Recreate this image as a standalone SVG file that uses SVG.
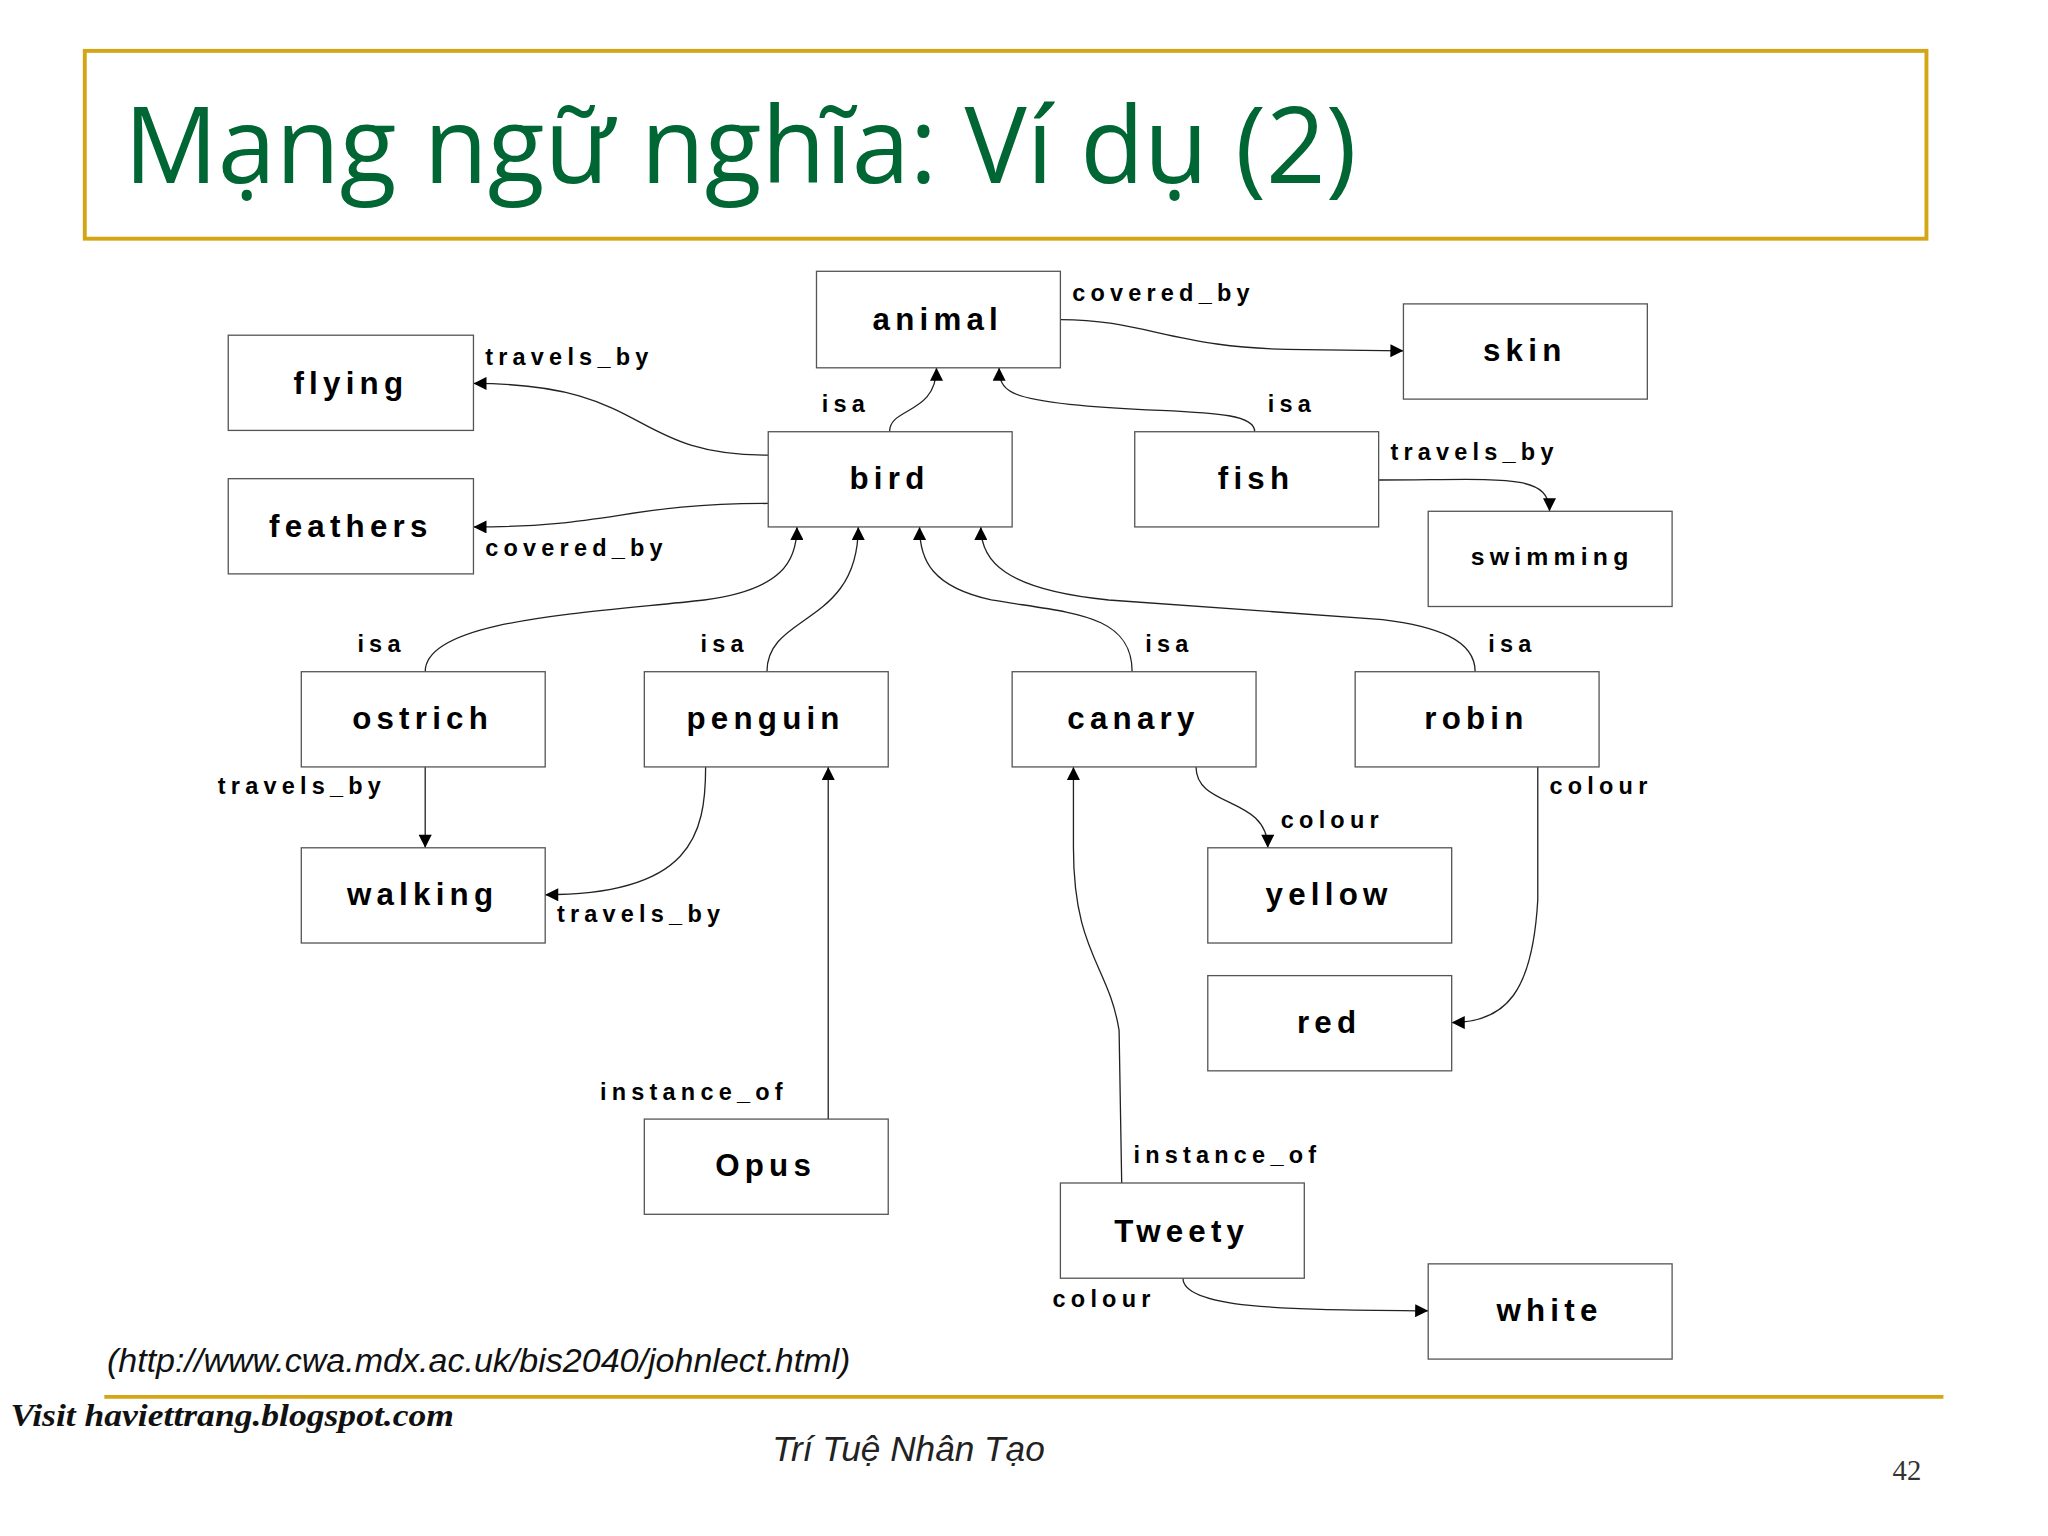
<svg xmlns="http://www.w3.org/2000/svg" width="2048" height="1536" viewBox="0 0 2048 1536">
<defs>
<marker id="ar" viewBox="0 0 10 10" refX="10" refY="5" markerWidth="14" markerHeight="10" markerUnits="userSpaceOnUse" orient="auto"><path d="M0,0 L10,5 L0,10 z" fill="#000"/></marker>
<style>
.n rect{fill:#fff;stroke:#555;stroke-width:1}
.n text{font-family:"Liberation Sans",Arial,sans-serif;font-size:24px;font-weight:bold;letter-spacing:4px;text-anchor:middle;fill:#000}
.e path{fill:none;stroke:#222;stroke-width:1;marker-end:url(#ar)}
.l{font-family:"Liberation Sans",Arial,sans-serif;font-size:18px;font-weight:bold;letter-spacing:4px;fill:#000}
</style>
</defs>
<rect width="2048" height="1536" fill="#fff"/>
<g transform="scale(1.3043)">
<rect x="65" y="39" width="1412" height="144" fill="none" stroke="#D4A514" stroke-width="3"/>
<text x="95" y="140" font-family="'Open Sans',sans-serif" font-size="82" fill="#006633" textLength="945" lengthAdjust="spacingAndGlyphs">Mạng ngữ nghĩa: Ví dụ (2)</text>

<g class="e" id="edges">
<path d="M813,245 C880,245 900,268 1000,268 L1076,269"/>
<path d="M682,331 C682,312 718,318 718,282"/>
<path d="M962,331 C962,312 900,318 820,310 C775,305 766,300 766,282"/>
<path d="M589,349 C480,349 500,294 363,294"/>
<path d="M589,386 C480,386 470,404 363,404"/>
<path d="M1057,368 C1150,368 1188,362 1188,392"/>
<path d="M326,515 C326,475 450,470 540,460 C600,452 611,430 611,404"/>
<path d="M588,515 C588,470 658,480 658,404"/>
<path d="M868,515 C868,470 820,470 760,460 C715,450 705,430 705,404"/>
<path d="M1131,515 C1131,490 1100,480 1060,475 L850,460 C770,452 752,430 752,404"/>
<path d="M326,588 L326,650"/>
<path d="M541,588 C541,640 530,686 418,686"/>
<path d="M917,588 C917,620 972,610 972,650"/>
<path d="M1179,588 L1179,690 C1175,760 1155,784 1113,784"/>
<path d="M635,858 L635,588"/>
<path d="M860,907 L858,790 C850,740 823,730 823,650 L823,588"/>
<path d="M907,980 C907,1005 1000,1004 1095,1005"/>
</g>
<g>
<text class="l" x="822" y="231">covered_by</text>
<text class="l" x="630" y="316">isa</text>
<text class="l" x="972" y="316">isa</text>
<text class="l" x="372" y="280">travels_by</text>
<text class="l" x="372" y="426">covered_by</text>
<text class="l" x="1066" y="353">travels_by</text>
<text class="l" x="274" y="500">isa</text>
<text class="l" x="537" y="500">isa</text>
<text class="l" x="878" y="500">isa</text>
<text class="l" x="1141" y="500">isa</text>
<text class="l" x="167" y="609">travels_by</text>
<text class="l" x="427" y="707">travels_by</text>
<text class="l" x="982" y="635">colour</text>
<text class="l" x="1188" y="609">colour</text>
<text class="l" x="460" y="843">instance_of</text>
<text class="l" x="869" y="892">instance_of</text>
<text class="l" x="807" y="1002">colour</text>
</g>

<g class="n" id="animal"><rect x="626" y="208" width="187" height="74"/><text x="719" y="253">animal</text></g>
<g class="n" id="skin"><rect x="1076" y="233" width="187" height="73"/><text x="1169" y="277">skin</text></g>
<g class="n" id="flying"><rect x="175" y="257" width="188" height="73"/><text x="269" y="302">flying</text></g>
<g class="n" id="bird"><rect x="589" y="331" width="187" height="73"/><text x="682" y="375">bird</text></g>
<g class="n" id="fish"><rect x="870" y="331" width="187" height="73"/><text x="963" y="375">fish</text></g>
<g class="n" id="feathers"><rect x="175" y="367" width="188" height="73"/><text x="269" y="412">feathers</text></g>
<g class="n" id="swimming"><rect x="1095" y="392" width="187" height="73"/><text x="1190" y="433" style="font-size:19px">swimming</text></g>
<g class="n" id="ostrich"><rect x="231" y="515" width="187" height="73"/><text x="324" y="559">ostrich</text></g>
<g class="n" id="penguin"><rect x="494" y="515" width="187" height="73"/><text x="587" y="559">penguin</text></g>
<g class="n" id="canary"><rect x="776" y="515" width="187" height="73"/><text x="869" y="559">canary</text></g>
<g class="n" id="robin"><rect x="1039" y="515" width="187" height="73"/><text x="1132" y="559">robin</text></g>
<g class="n" id="walking"><rect x="231" y="650" width="187" height="73"/><text x="324" y="694">walking</text></g>
<g class="n" id="yellow"><rect x="926" y="650" width="187" height="73"/><text x="1019" y="694">yellow</text></g>
<g class="n" id="red"><rect x="926" y="748" width="187" height="73"/><text x="1019" y="792">red</text></g>
<g class="n" id="Opus"><rect x="494" y="858" width="187" height="73"/><text x="587" y="902">Opus</text></g>
<g class="n" id="Tweety"><rect x="813" y="907" width="187" height="73"/><text x="906" y="952">Tweety</text></g>
<g class="n" id="white"><rect x="1095" y="969" width="187" height="73"/><text x="1188" y="1013">white</text></g>

<text x="82" y="1052" font-family="'Liberation Sans',Arial,sans-serif" font-size="25" font-style="italic" fill="#111" textLength="570" lengthAdjust="spacingAndGlyphs">(http://www.cwa.mdx.ac.uk/bis2040/johnlect.html)</text>
<line x1="80" y1="1071" x2="1490" y2="1071" stroke="#D4A514" stroke-width="3"/>
<text x="8" y="1093" font-family="'Liberation Serif',serif" font-size="24" font-weight="bold" font-style="italic" fill="#111" textLength="340" lengthAdjust="spacingAndGlyphs">Visit haviettrang.blogspot.com</text>
<text x="592" y="1120" font-family="'Liberation Sans',Arial,sans-serif" font-size="27" font-style="italic" fill="#222">Trí Tuệ Nhân Tạo</text>
<text x="1451" y="1135" font-family="'Liberation Serif',serif" font-size="22" fill="#333">42</text>
</g>
</svg>
